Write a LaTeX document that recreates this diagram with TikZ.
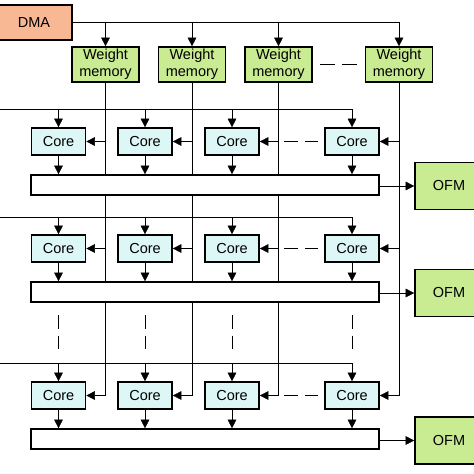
\documentclass[tikz,border=0pt]{standalone}
\usepackage{fontspec}
\setmainfont{Liberation Sans}
\usetikzlibrary{arrows.meta}
\pgfdeclarelayer{background}
\pgfsetlayers{background,main}
\definecolor{dmac}{HTML}{F8B894}
\definecolor{wmc}{HTML}{C9EB92}
\definecolor{corec}{HTML}{DDF6F6}
\begin{document}
\begin{tikzpicture}[x=1pt,y=-1pt,line width=1.6pt,>={Triangle[length=8.5pt,width=8.5pt]},
  box/.style={draw,line width=1.6pt,inner sep=0pt,font=\fontsize{14.5}{17}\selectfont},
  dmabox/.style={box,fill=dmac,minimum width=76pt,minimum height=35pt},
  wmbox/.style={box,fill=wmc,minimum width=67pt,minimum height=35pt,align=center},
  corebox/.style={box,fill=corec,minimum width=54pt,minimum height=27pt},
  barbox/.style={box,fill=white,minimum width=348pt,minimum height=20pt},
  ofmbox/.style={box,fill=wmc,minimum width=68pt,minimum height=47pt},
  dsh/.style={dash pattern=on 13.5pt off 7pt},
  dshw/.style={dash pattern=on 15pt off 7pt}]
\clip (0,0) rectangle (474,474);
% DMA
\node[dmabox] (dma) at (34,22.5) {DMA};
% weight memories
\foreach \i/\x in {1/105.5,2/192,3/278.5,4/399}
  \node[wmbox] (w\i) at (\x,64.5) {Weight\\memory};
% cores
\foreach \r/\y in {1/141.5,2/248.5,3/395.5}
  \foreach \i/\x in {1/58.5,2/145,3/232,4/352}
    \node[corebox] (c\r\i) at (\x,\y) {Core};
% bars
\node[barbox] (b1) at (205,185) {};
\node[barbox] (b2) at (205,292) {};
\node[barbox] (b3) at (205,439) {};
% OFM
\node[ofmbox] (o1) at (449,186) {OFM};
\node[ofmbox] (o2) at (449,293) {OFM};
\node[ofmbox] (o3) at (449,440.5) {OFM};
% row feed coordinates
\coordinate (L1) at (-3,109);
\coordinate (L2) at (-3,217);
\coordinate (L3) at (-3,363);
\begin{pgfonlayer}{background}
% DMA distribution
\draw[->] (dma.east) -| (w4.north);
\foreach \i in {1,2,3}
  \draw[->] (w\i.north |- dma.east) -- (w\i.north);
% weight lines
\foreach \i in {1,2,3,4}{
  \draw[->] (w\i.south) |- (c3\i.east);
  \draw[->] (w\i.south |- c1\i.east) -- (c1\i.east);
  \draw[->] (w\i.south |- c2\i.east) -- (c2\i.east);
}
% row feed lines
\foreach \r in {1,2,3}{
  \draw[->] (L\r) -| (c\r4.north);
  \foreach \i in {1,2,3}
    \draw[->] (c\r\i.north |- L\r) -- (c\r\i.north);
  \foreach \i in {1,2,3,4}
    \draw[->] (c\r\i.south) -- (c\r\i.south |- b\r.north);
  \draw[->] (b\r.east |- o\r.west) -- (o\r.west);
}
\end{pgfonlayer}
% dashed continuation marks
\draw[dshw] ([xshift=7.5pt]w3.east) -- ++(37,0);
\foreach \r in {1,2,3}
  \draw[dsh] ([xshift=-6pt]c\r4.west) -- ++(-34,0);
\foreach \i in {1,2,3,4}{
  \coordinate (d\i a) at (c2\i.center |- 0,315);
  \coordinate (d\i b) at (c2\i.center |- 0,349);
  \draw[dsh] (d\i a) -- (d\i b);
}
\end{tikzpicture}
\end{document}
